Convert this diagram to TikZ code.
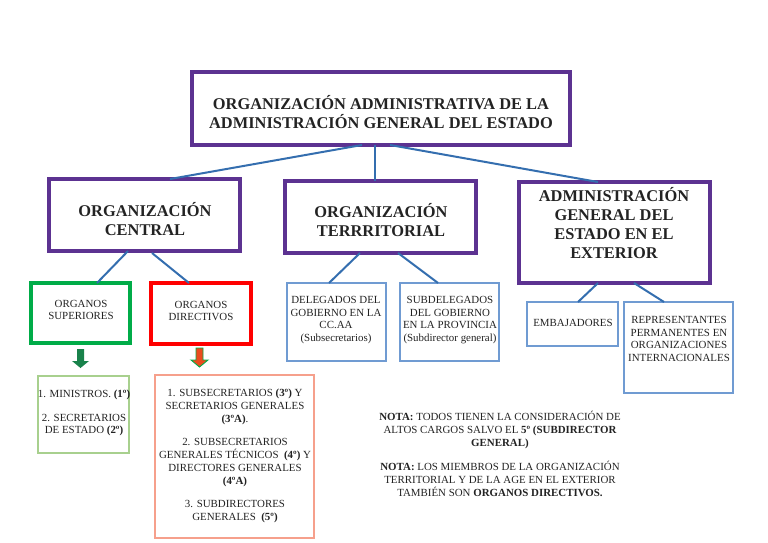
\documentclass[tikz,border=0pt]{standalone}
\usepackage{fontspec}
\setmainfont{Liberation Serif}
\definecolor{purp}{RGB}{92,50,145}
\definecolor{lnblue}{RGB}{52,110,175}
\definecolor{ltblue}{RGB}{112,155,210}
\definecolor{grn}{RGB}{0,172,72}
\definecolor{ltgrn}{RGB}{168,208,142}
\definecolor{salmon}{RGB}{246,160,140}
\definecolor{darkgrn}{RGB}{25,130,75}
\definecolor{orng}{RGB}{235,75,30}
\definecolor{txt}{RGB}{35,35,35}
\tikzset{
  bigbox/.style={draw=purp, line width=4.5pt},
  grnbox/.style={draw=grn, line width=4pt},
  redbox/.style={draw=red, line width=4pt},
  bluebox/.style={draw=ltblue, line width=2.4pt},
  lgbox/.style={draw=ltgrn, line width=2.4pt},
  salbox/.style={draw=salmon, line width=1.8pt},
  bigtxt/.style={font=\fontsize{16.4}{19}\selectfont\bfseries, text=txt, align=center},
  smtxt/.style={font=\fontsize{10.9}{12.7}\selectfont, text=txt, align=center},
  conn/.style={draw=lnblue, line width=2pt}
}
\begin{document}
\begin{tikzpicture}[x=1pt,y=-1pt]
\useasboundingbox (0,0) rectangle (768,543);
% boxes
\draw[bigbox] (192,72) rectangle (570,145);
\coordinate (tB1) at (362,145); \coordinate (tB2) at (375,145); \coordinate (tB3) at (390,145);
\node[bigtxt] (title) at (381,112) {ORGANIZACIÓN ADMINISTRATIVA DE LA\\ADMINISTRACIÓN GENERAL DEL ESTADO};

\draw[bigbox] (49,179) rectangle (240,251);
\node[bigtxt] (central) at (145,219) {ORGANIZACIÓN\\CENTRAL};
\draw[bigbox] (285,181) rectangle (476,253);
\node[bigtxt] (territ) at (381,220) {ORGANIZACIÓN\\TERRRITORIAL};
\draw[bigbox] (519,182) rectangle (710,283);
\node[bigtxt] (exter) at (614,223) {ADMINISTRACIÓN\\GENERAL DEL\\ESTADO EN EL\\EXTERIOR};

\draw[grnbox] (31,283) rectangle (130,343);
\node[smtxt] (sup) at (81,310) {ORGANOS\\SUPERIORES};
\draw[redbox] (151,283) rectangle (251,344);
\node[smtxt] (dir) at (201,311) {ORGANOS\\DIRECTIVOS};
\draw[bluebox] (287,283) rectangle (386,361);
\node[smtxt] (deleg) at (336,320) {DELEGADOS DEL\\GOBIERNO EN LA\\CC.AA\\(Subsecretarios)};
\draw[bluebox] (400,283) rectangle (499,361);
\node[smtxt] (subdel) at (450,320) {SUBDELEGADOS\\DEL GOBIERNO\\EN LA PROVINCIA\\(Subdirector general)};
\draw[bluebox] (527,302) rectangle (618,346);
\node[smtxt] (emb) at (573,323) {EMBAJADORES};
\draw[bluebox] (624,302) rectangle (733,393);
\node[smtxt] (repr) at (679,339) {REPRESENTANTES\\PERMANENTES EN\\ORGANIZACIONES\\INTERNACIONALES};

\draw[lgbox] (38,376) rectangle (129,453);
\node[smtxt] (min) at (84,413) {1. MINISTROS. \textbf{(1º)}\\[11pt]2. SECRETARIOS\\DE ESTADO \textbf{(2º)}};
\draw[salbox] (155,375) rectangle (314,538);
\node[smtxt] (subsec) at (235,456) {1. SUBSECRETARIOS \textbf{(3º)} Y\\SECRETARIOS GENERALES\\\textbf{(3ºA)}.\\[11pt]2. SUBSECRETARIOS\\GENERALES TÉCNICOS \ \textbf{(4º)} Y\\DIRECTORES GENERALES\\\textbf{(4ºA)}\\[11pt]3. SUBDIRECTORES\\GENERALES \ \textbf{(5º)}};

\node[smtxt] (nota) at (500,454) {\textbf{NOTA:} TODOS TIENEN LA CONSIDERACIÓN DE\\ALTOS CARGOS SALVO EL \textbf{5º (SUBDIRECTOR}\\\textbf{GENERAL)}\\[12pt]\textbf{NOTA:} LOS MIEMBROS DE LA ORGANIZACIÓN\\TERRITORIAL Y DE LA AGE EN EL EXTERIOR\\TAMBIÉN SON \textbf{ORGANOS DIRECTIVOS.}};

% connectors
\coordinate (cT) at (170,179); \coordinate (trT) at (375,181); \coordinate (eT) at (598,182);
\draw[conn] (tB1) -- (cT);
\draw[conn] (tB2) -- (trT);
\draw[conn] (tB3) -- (eT);
\coordinate (cB1) at (128,251); \coordinate (cB2) at (152,253);
\coordinate (supT) at (97,283); \coordinate (dirT) at (189,283);
\draw[conn] (cB1) -- (supT);
\draw[conn] (cB2) -- (dirT);
\coordinate (trB1) at (360,253); \coordinate (trB2) at (398,253);
\coordinate (delT) at (329,283); \coordinate (subT) at (438,283);
\draw[conn] (trB1) -- (delT);
\draw[conn] (trB2) -- (subT);
\coordinate (eB1) at (598,283); \coordinate (eB2) at (634,283);
\coordinate (embT) at (578,302); \coordinate (repT) at (664,302);
\draw[conn] (eB1) -- (embT);
\draw[conn] (eB2) -- (repT);

% block arrows
\fill[darkgrn] (77,349) -- (84,349) -- (84,361) -- (89,361) -- (80.5,368) -- (72,361) -- (77,361) -- cycle;
\filldraw[fill=orng, draw=grn, line width=0.9pt] (196,348) -- (203,348) -- (203,360) -- (208,360) -- (199.5,367) -- (191,360) -- (196,360) -- cycle;
\end{tikzpicture}
\end{document}
